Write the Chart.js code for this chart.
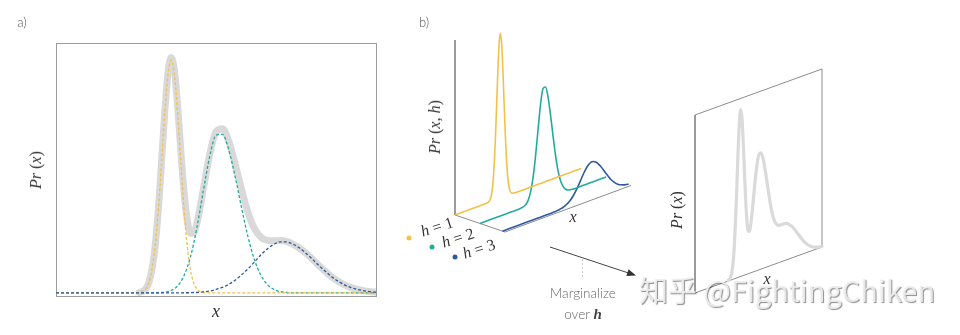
<!DOCTYPE html>
<html>
<head>
<meta charset="utf-8">
<script src="https://cdn.jsdelivr.net/npm/chart.js@4.4.0/dist/chart.umd.min.js"></script>
<style>
  body { margin: 0; background: #fff; }
  #wrap { position: relative; width: 960px; height: 335px; overflow: hidden; font-family: Lato, "Open Sans", sans-serif; }
  canvas { position: absolute; top: 0; }
  .lbl { position: absolute; white-space: nowrap; line-height: 1; transform: translate(-50%, -50%); }
  .math { font-family: "Liberation Serif", "DejaVu Serif", serif; color: #333; }
  .math i { font-style: italic; }
  .panel { font-size: 13px; font-weight: 300; color: #555; }
  .dot { position: absolute; width: 5px; height: 5px; border-radius: 50%; transform: translate(-50%, -50%); }
  .marg { font-size: 13.5px; font-weight: 300; color: #666; text-align: center; line-height: 21px; }
  .marg b { font-family: "Liberation Serif", serif; font-style: italic; font-weight: bold; color: #444; font-size: 15px; }
  #wm { position: absolute; left: 639px; top: 275px; font-family: "Noto Sans CJK SC", "Noto Sans", sans-serif; font-size: 29px; line-height: 1;
        color: rgba(238,238,238,0.92); text-shadow: 1px 1px 1px rgba(0,0,0,0.45); white-space: nowrap; }
</style>
</head>
<body>
<div id="wrap">
  <canvas id="chartA" width="400" height="335" style="left:0"></canvas>
  <canvas id="chartB" width="260" height="335" style="left:400px"></canvas>
  <canvas id="chartC" width="300" height="335" style="left:660px"></canvas>

  <div class="lbl panel" style="left:22px;top:22px">a)</div>
  <div class="lbl panel" style="left:424px;top:22px">b)</div>

  <div class="lbl math" style="left:36px;top:170px;font-size:16px;transform:translate(-50%,-50%) rotate(-90deg)"><i>Pr</i> (<i>x</i>)</div>
  <div class="lbl math" style="left:216px;top:311px;font-size:18px"><i>x</i></div>

  <div class="lbl math" style="left:435px;top:127px;font-size:16px;transform:translate(-50%,-50%) rotate(-90deg)"><i>Pr</i> (<i>x</i>, <i>h</i>)</div>
  <div class="lbl math" style="left:573px;top:217px;font-size:16px"><i>x</i></div>
  <div id="hlab"></div>

  <div class="lbl marg" style="left:583px;top:304px">Marginalize<br>over <b>h</b></div>

  <div class="lbl math" style="left:677px;top:210px;font-size:16px;transform:translate(-50%,-50%) rotate(-90deg)"><i>Pr</i> (<i>x</i>)</div>
  <div class="lbl math" style="left:767px;top:279px;font-size:16px"><i>x</i></div>

  <div id="wm">知乎 @FightingChiken</div>
</div>
<script>
// sample positions along x (0..1), denser round the narrow first peak
const xs = [0, 0.1, 0.2, 0.24,
  0.26, 0.27, 0.28, 0.29, 0.30, 0.31, 0.32, 0.33, 0.34, 0.35, 0.36, 0.37, 0.38, 0.39, 0.40, 0.41, 0.42, 0.43, 0.44, 0.45, 0.46,
  0.48, 0.50, 0.52, 0.54, 0.56, 0.58, 0.60, 0.62, 0.64, 0.66, 0.68, 0.70, 0.72, 0.74, 0.76, 0.78, 0.80,
  0.82, 0.84, 0.86, 0.88, 0.90, 0.92, 0.94, 0.96, 0.98, 1.00];

// Pr(x, h) for each h
const h1Vals = [0, 0, 0, 0,
  0.002, 0.006, 0.017, 0.044, 0.101, 0.203, 0.361, 0.563, 0.775, 0.938, 1.000, 0.938, 0.775, 0.563, 0.361, 0.203, 0.101, 0.044, 0.017, 0.006, 0.002,
  0, 0, 0, 0, 0, 0, 0, 0, 0, 0, 0, 0, 0, 0, 0, 0, 0,
  0, 0, 0, 0, 0, 0, 0, 0, 0, 0];
const h2Vals = [0, 0, 0, 0,
  0, 0, 0, 0, 0, 0.001, 0.001, 0.002, 0.003, 0.006, 0.011, 0.018, 0.030, 0.048, 0.074, 0.109, 0.154, 0.211, 0.279, 0.355, 0.435,
  0.584, 0.677, 0.681, 0.614, 0.498, 0.365, 0.241, 0.143, 0.077, 0.037, 0.016, 0.006, 0.002, 0, 0, 0, 0,
  0, 0, 0, 0, 0, 0, 0, 0, 0, 0];
const h3Vals = [0, 0, 0, 0,
  0, 0, 0, 0, 0, 0, 0, 0, 0, 0, 0, 0, 0, 0, 0.001, 0.001, 0.001, 0.002, 0.002, 0.003, 0.005,
  0.008, 0.015, 0.024, 0.037, 0.055, 0.078, 0.104, 0.133, 0.163, 0.189, 0.208, 0.219, 0.219, 0.210, 0.194, 0.172, 0.147,
  0.120, 0.095, 0.071, 0.052, 0.036, 0.024, 0.016, 0.010, 0.006, 0.003];

const hLabels = ['h = 1', 'h = 2', 'h = 3'];
const colours = ['#f2c14a', '#23aa9b', '#2f5b9c'];

// Pr(x) = sum over h, only drawn from where it leaves the floor
const mixVals = xs.map((x, i) => x < 0.26 ? null : h1Vals[i] + h2Vals[i] + h3Vals[i]);

// oblique projection used by panels b and c
function project(vals, depth, p) {
  return xs.map((x, i) => ({
    x: x + depth * p.dx,
    y: vals[i] == null ? null : vals[i] + x * p.slope + depth * p.dy
  }));
}
function flat(vals) {
  return xs.map((x, i) => ({ x: x, y: vals[i] }));
}

const base = {
  responsive: false,
  animation: false,
  events: [],
  plugins: { legend: { display: false }, tooltip: { enabled: false } }
};

// ---------- panel a ----------
const framePlugin = {
  id: 'frame',
  beforeDatasetsDraw(chart) {
    const a = chart.chartArea, c = chart.ctx;
    c.save();
    c.strokeStyle = '#9c9c9c';
    c.lineWidth = 1;
    c.strokeRect(a.left + 0.5, a.top + 0.5, a.right - a.left, a.bottom - a.top);
    c.restore();
  }
};

const dashed = (vals, col, ord) => ({
  data: flat(vals), borderColor: col, borderWidth: 1.3, borderDash: [3, 2],
  pointRadius: 0, cubicInterpolationMode: 'monotone', order: ord
});

new Chart(document.getElementById('chartA'), {
  type: 'line',
  data: {
    datasets: [
      { data: flat(mixVals), borderColor: '#d9d9d9', borderWidth: 7, pointRadius: 0,
        cubicInterpolationMode: 'monotone', borderCapStyle: 'round', order: 5 },
      dashed(h1Vals, colours[0], 1),
      dashed(h2Vals, colours[1], 2),
      dashed(h3Vals, colours[2], 0)
    ]
  },
  options: Object.assign({}, base, {
    layout: { padding: { left: 56, top: 43, right: 24, bottom: 39 } },
    scales: {
      x: { type: 'linear', min: 0, max: 1, display: false },
      y: { min: -0.013, max: 1.073, display: false }
    }
  }),
  plugins: [framePlugin]
});

// ---------- panel b ----------
const projB = { dx: 0.397, dy: -0.103, slope: 0.2818 };
const depthB = [0, 0.5, 0.95];

const arrowPlugin = {
  id: 'arrow',
  afterDatasetsDraw(chart) {
    const c = chart.ctx;
    c.save();
    // dashed tick under the arrow
    c.strokeStyle = '#cfcfcf';
    c.setLineDash([2, 2]);
    c.beginPath(); c.moveTo(182.5, 259); c.lineTo(182.5, 277); c.stroke();
    c.setLineDash([]);
    // arrow
    const x0 = 150, y0 = 247, x1 = 236, y1 = 275.5;
    const ang = Math.atan2(y1 - y0, x1 - x0);
    c.strokeStyle = '#444';
    c.lineWidth = 1;
    c.beginPath(); c.moveTo(x0, y0); c.lineTo(x1 - 6 * Math.cos(ang), y1 - 6 * Math.sin(ang)); c.stroke();
    c.fillStyle = '#333';
    c.beginPath();
    c.moveTo(x1, y1);
    c.lineTo(x1 - 9 * Math.cos(ang) + 3.5 * Math.sin(ang), y1 - 9 * Math.sin(ang) - 3.5 * Math.cos(ang));
    c.lineTo(x1 - 9 * Math.cos(ang) - 3.5 * Math.sin(ang), y1 - 9 * Math.sin(ang) + 3.5 * Math.cos(ang));
    c.closePath(); c.fill();
    c.restore();
  }
};

const axesB = [
  { x: 0, y: 1.06 },
  { x: 0, y: 0 },
  { x: projB.dx, y: projB.dy },
  { x: projB.dx + 1, y: projB.dy + projB.slope }
];

const curveB = (vals, k) => ({
  data: project(vals, depthB[k], projB), borderColor: colours[k], borderWidth: 1.6,
  showLine: true, pointRadius: 0, cubicInterpolationMode: 'monotone', order: k
});

new Chart(document.getElementById('chartB'), {
  type: 'scatter',
  data: {
    datasets: [
      curveB(h3Vals, 2),
      curveB(h2Vals, 1),
      curveB(h1Vals, 0),
      { data: axesB, borderColor: '#8c8c8c', borderWidth: 1, showLine: true, pointRadius: 0, order: 6 }
    ]
  },
  options: Object.assign({}, base, {
    scales: {
      x: { type: 'linear', min: -0.4365, max: 1.627, display: false },
      y: { min: -0.7273, max: 1.303, display: false }
    }
  }),
  plugins: [arrowPlugin]
});

// h labels with coloured dots
const labPos = [[437, 227, 409, 238], [458, 238, 432, 247], [479, 249, 455, 257]];
const hlab = document.getElementById('hlab');
hLabels.forEach((t, k) => {
  const p = labPos[k];
  const d = document.createElement('div');
  d.className = 'lbl math';
  d.style.left = p[0] + 'px';
  d.style.top = p[1] + 'px';
  d.style.fontSize = '16px';
  d.style.transform = 'translate(-50%,-50%) rotate(-18deg)';
  d.innerHTML = '<i>' + t.replace(' = ', '</i> = ');
  hlab.appendChild(d);
  const dot = document.createElement('span');
  dot.className = 'dot';
  dot.style.left = p[2] + 'px';
  dot.style.top = p[3] + 'px';
  dot.style.background = colours[k];
  hlab.appendChild(dot);
});

// ---------- panel c ----------
const projC = { dx: 0, dy: 0, slope: 0.2788 };
const frameH = 1.079;
const frameC = [
  { x: 0, y: 0 },
  { x: 1, y: projC.slope },
  { x: 1, y: projC.slope + frameH },
  { x: 0, y: frameH },
  { x: 0, y: 0 }
];

new Chart(document.getElementById('chartC'), {
  type: 'scatter',
  data: {
    datasets: [
      { data: project(mixVals, 0, projC), borderColor: '#dadada', borderWidth: 3.2, showLine: true,
        pointRadius: 0, cubicInterpolationMode: 'monotone', borderCapStyle: 'round', order: 0 },
      { data: frameC, borderColor: '#8c8c8c', borderWidth: 1, showLine: true, pointRadius: 0, order: 1 }
    ]
  },
  options: Object.assign({}, base, {
    scales: {
      x: { type: 'linear', min: -0.2756, max: 2.0866, display: false },
      y: { min: -0.2545, max: 1.7758, display: false }
    }
  })
});
</script>
</body>
</html>
